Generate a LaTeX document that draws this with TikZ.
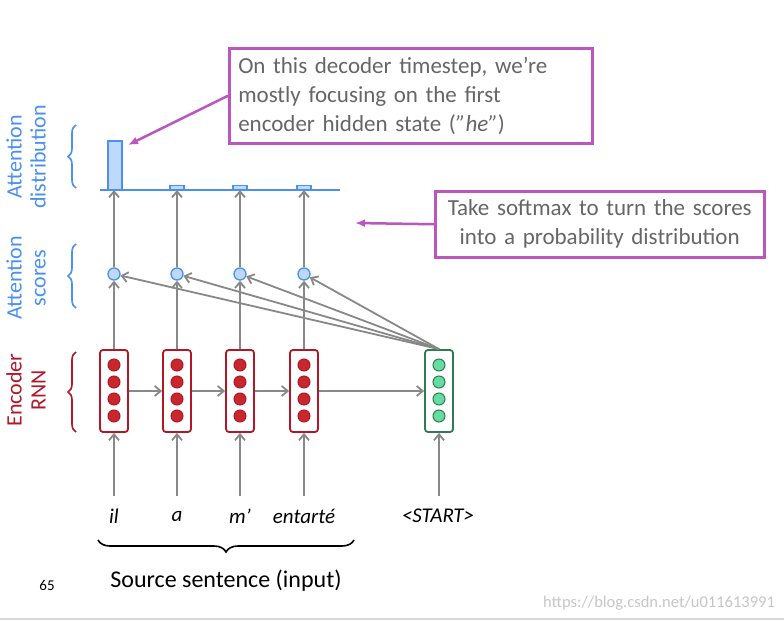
\documentclass[tikz,border=0pt]{standalone}
\usepackage{fontspec}
\setmainfont{Carlito}
\usetikzlibrary{arrows.meta,decorations.pathreplacing}
\definecolor{ablue}{HTML}{4A90F0}
\definecolor{lblue}{HTML}{BFD9FA}
\definecolor{ered}{HTML}{B0182A}
\definecolor{dred}{HTML}{C8282C}
\definecolor{dgreen}{HTML}{2E7D52}
\definecolor{lgreen}{HTML}{66DDA0}
\definecolor{purp}{HTML}{BB55C0}
\definecolor{agray}{HTML}{888888}
\definecolor{tgray}{HTML}{666666}
\begin{document}
\begin{tikzpicture}[x=1pt,y=-1pt,
  arr/.style={draw=agray,line width=1.8pt,-{Straight Barb[length=6pt,width=10pt]}},
  cell/.style={draw=#1,line width=1.8pt,rounded corners=3pt,minimum width=28pt,minimum height=82pt,inner sep=0pt},
  dot/.style={circle,draw=#1,line width=1pt,minimum size=12pt,inner sep=0pt},
  score/.style={circle,draw=ablue,fill=lblue,line width=1.3pt,minimum size=12pt,inner sep=0pt},
  word/.style={font=\itshape\fontsize{21}{24}\selectfont},
  side/.style={rotate=90,align=center,font=\fontsize{22}{24}\selectfont},
  brc/.style={decorate,decoration={brace,amplitude=8pt},line width=1.6pt},
  pbox/.style={draw=purp,line width=2.5pt,align=left,text=tgray,font=\fontsize{23}{29}\selectfont,inner sep=0pt},
  parr/.style={draw=purp,line width=2.5pt,-{Latex[length=10pt,width=8pt]}}]
\useasboundingbox (0,0) rectangle (784,621);
\fill[white] (0,0) rectangle (784,621);
\draw[gray!30,line width=2pt] (0,619) -- (784,619);
\foreach \n/\x in {1/114,2/177,3/240,4/304}{
  \node[cell=ered] (c\n) at (\x,391) {};
  \foreach \k/\y in {1/365,2/382,3/399,4/416}
    \node[dot=ered,fill=dred] (c\n d\k) at (\x,\y) {};
  \node[score] (s\n) at (\x,274) {};
  \coordinate (b\n) at (\x,190);
  \coordinate (in\n) at (\x,496);
}
\node[cell=dgreen] (g) at (439,391) {};
\foreach \k/\y in {1/365,2/382,3/399,4/416}
  \node[dot=dgreen,fill=lgreen] (gd\k) at (439,\y) {};
\coordinate (ing) at (439,496);
\draw[arr] (c1.east) -- (c2.west);
\draw[arr] (c2.east) -- (c3.west);
\draw[arr] (c3.east) -- (c4.west);
\draw[arr] (c4.east) -- (g.west);
\foreach \n in {1,2,3,4}{
  \draw[arr] (in\n) -- (c\n.south);
  \draw[arr] (c\n.north) -- (s\n.south);
  \draw[arr] (s\n.north) -- (b\n);
  \draw[arr] (g.north) -- (s\n);
}
\draw[arr] (ing) -- (g.south);
\draw[ablue,fill=lblue,line width=1.6pt] (108,190) rectangle (122,141);
\foreach \x in {177,240,304}
  \draw[ablue,fill=lblue,line width=1.6pt] (\x-7,190) rectangle (\x+7,185.5);
\draw[ablue,line width=1.6pt] (100,190) -- (340,190);
\node[word] (w1) at (114,516) {il};
\node[word] (w2) at (177,516) {a};
\node[word] (w3) at (240,516) {m’};
\node[word] (w4) at (304,516) {entarté};
\node[word] (w5) at (438,516) {<START>};
\coordinate (bl) at (98,540);
\coordinate (br) at (354,540);
\draw[brc,decoration={mirror,amplitude=12pt}] (bl) -- (br);
\node[font=\fontsize{24}{26}\selectfont] (src) at (226,581) {Source sentence (input)};
\node[font=\fontsize{15}{17}\selectfont] (pg) at (47,585) {65};
\node[text=gray!45,font=\fontsize{16.5}{18}\selectfont] (wm) at (659,603) {https://blog.csdn.net/u011613991};
\node[side,text=ablue] (l1) at (26,157) {Attention\\distribution};
\draw[brc,ablue] (76,188) -- (76,125);
\node[side,text=ablue] (l2) at (26,278) {Attention\\scores};
\draw[brc,ablue] (76,308) -- (76,244);
\node[side,text=ered] (l3) at (26,390) {Encoder\\RNN};
\draw[brc,ered] (76,432) -- (76,352);
\node[pbox,minimum width=353pt,minimum height=95pt,anchor=north west,text width=345pt,inner xsep=9pt] (box1) at (228,47) {On this decoder timestep, we’re\\mostly focusing on the first\\encoder hidden state (\textit{”he”})};
\node[pbox,minimum width=329pt,minimum height=66pt,anchor=north west,align=center,text width=329pt] (box2) at (434,190) {Take softmax to turn the scores\\into a probability distribution};
\coordinate (t1) at (128,145);
\coordinate (t2) at (355,223);
\draw[parr] (box1.west) -- (t1);
\draw[parr] (box2.west) -- (t2);
\end{tikzpicture}
\end{document}
